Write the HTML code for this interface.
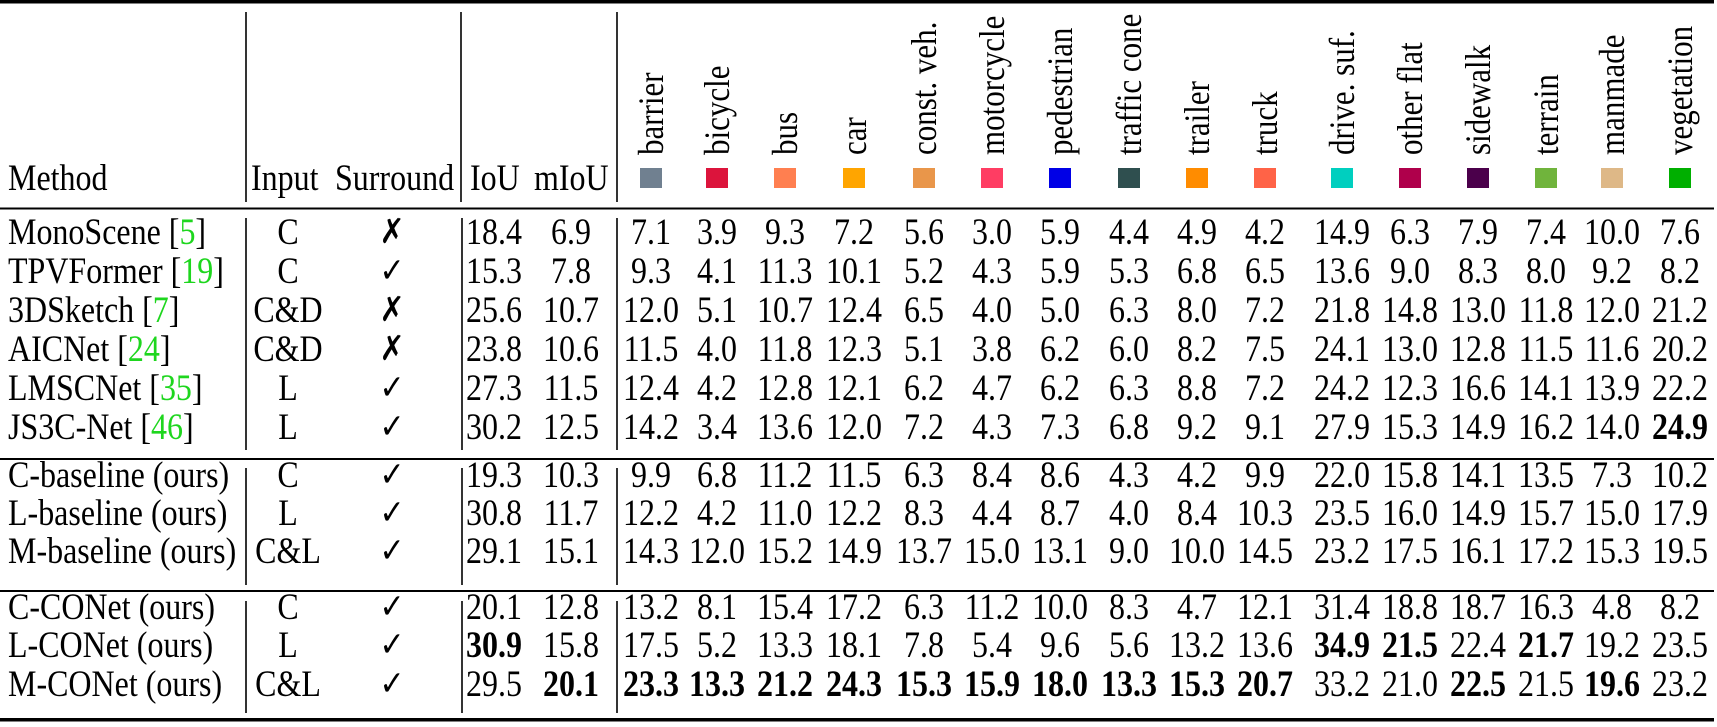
<!DOCTYPE html>
<html><head><meta charset="utf-8"><style>
html,body{margin:0;padding:0;background:#fff;}
svg{display:block}
text{font-family:"Liberation Serif",serif;font-size:32px;fill:#000}
.b{font-weight:bold}
.c{text-anchor:middle}
.g{fill:#1ed61e}
.sym{font-family:"DejaVu Sans",sans-serif;font-size:30px;font-weight:bold}
.rl{font-size:31px}
</style></head><body>
<svg width="1717" height="727" viewBox="0 0 1717 727" xmlns="http://www.w3.org/2000/svg">
<rect x="0" y="0" width="1714" height="3.5" fill="#000"/>
<rect x="0" y="207.5" width="1714" height="2" fill="#000"/>
<rect x="0" y="458" width="1714" height="2" fill="#000"/>
<rect x="0" y="590" width="1714" height="2" fill="#000"/>
<rect x="0" y="718" width="1714" height="3.5" fill="#000"/>
<g stroke="#000" stroke-width="1.6">
<line x1="246" y1="12" x2="246" y2="202"/><line x1="461" y1="12" x2="461" y2="202"/><line x1="617" y1="12" x2="617" y2="202"/>
<line x1="246" y1="218" x2="246" y2="450"/><line x1="462" y1="218" x2="462" y2="450"/><line x1="617" y1="218" x2="617" y2="450"/>
<line x1="246" y1="468" x2="246" y2="585"/><line x1="462" y1="468" x2="462" y2="585"/><line x1="617" y1="468" x2="617" y2="585"/>
<line x1="246" y1="601" x2="246" y2="713"/><line x1="462" y1="601" x2="462" y2="713"/><line x1="617" y1="601" x2="617" y2="713"/>
</g>
<script>
const SY=1.15;
const cx=[651,717,785,854,924,992,1060,1129,1197,1265,1342,1410,1478,1546,1612,1680];
const names=["barrier","bicycle","bus","car","const. veh.","motorcycle","pedestrian","traffic cone","trailer","truck","drive. suf.","other flat","sidewalk","terrain","manmade","vegetation"];
const cols=["#708090","#dc143c","#ff7f50","#ffa500","#e9964a","#ff3d63","#0000e6","#2f4f4f","#ff8c00","#ff6347","#00cfbf","#af004b","#4b004b","#70b43c","#deb887","#00af00"];
const NS="http://www.w3.org/2000/svg";
const svg=document.querySelector("svg");
function t(x,y,s,cls,extra){const e=document.createElementNS(NS,"text");e.setAttribute("x",0);e.setAttribute("y",0);if(cls)e.setAttribute("class",cls);e.setAttribute("transform",extra||("translate("+x+","+y+") scale(1,"+SY+")"));e.textContent=s;svg.appendChild(e);return e;}
t(8,190,"Method");t(251,190,"Input");t(335,190,"Surround");t(470,190,"IoU");t(534,190,"mIoU");
for(let i=0;i<16;i++){
 const r=document.createElementNS(NS,"rect");r.setAttribute("x",cx[i]-11);r.setAttribute("y",168);r.setAttribute("width",22);r.setAttribute("height",20);r.setAttribute("fill",cols[i]);svg.appendChild(r);
 t(0,0,names[i],"rl", "translate("+(cx[i]+12)+",155) rotate(-90) scale(1,"+SY+")");
}
const rows=[
["MonoScene","5","C","x","18.4","6.9","7.1 3.9 9.3 7.2 5.6 3.0 5.9 4.4 4.9 4.2 14.9 6.3 7.9 7.4 10.0 7.6",244],
["TPVFormer","19","C","v","15.3","7.8","9.3 4.1 11.3 10.1 5.2 4.3 5.9 5.3 6.8 6.5 13.6 9.0 8.3 8.0 9.2 8.2",283],
["3DSketch","7","C&D","x","25.6","10.7","12.0 5.1 10.7 12.4 6.5 4.0 5.0 6.3 8.0 7.2 21.8 14.8 13.0 11.8 12.0 21.2",322],
["AICNet","24","C&D","x","23.8","10.6","11.5 4.0 11.8 12.3 5.1 3.8 6.2 6.0 8.2 7.5 24.1 13.0 12.8 11.5 11.6 20.2",361],
["LMSCNet","35","L","v","27.3","11.5","12.4 4.2 12.8 12.1 6.2 4.7 6.2 6.3 8.8 7.2 24.2 12.3 16.6 14.1 13.9 22.2",400],
["JS3C-Net","46","L","v","30.2","12.5","14.2 3.4 13.6 12.0 7.2 4.3 7.3 6.8 9.2 9.1 27.9 15.3 14.9 16.2 14.0 *24.9",439],
["C-baseline (ours)","","C","v","19.3","10.3","9.9 6.8 11.2 11.5 6.3 8.4 8.6 4.3 4.2 9.9 22.0 15.8 14.1 13.5 7.3 10.2",487],
["L-baseline (ours)","","L","v","30.8","11.7","12.2 4.2 11.0 12.2 8.3 4.4 8.7 4.0 8.4 10.3 23.5 16.0 14.9 15.7 15.0 17.9",525],
["M-baseline (ours)","","C&L","v","29.1","15.1","14.3 12.0 15.2 14.9 13.7 15.0 13.1 9.0 10.0 14.5 23.2 17.5 16.1 17.2 15.3 19.5",563],
["C-CONet (ours)","","C","v","20.1","12.8","13.2 8.1 15.4 17.2 6.3 11.2 10.0 8.3 4.7 12.1 31.4 18.8 18.7 16.3 4.8 8.2",619],
["L-CONet (ours)","","L","v","*30.9","15.8","17.5 5.2 13.3 18.1 7.8 5.4 9.6 5.6 13.2 13.6 *34.9 *21.5 22.4 *21.7 19.2 23.5",657],
["M-CONet (ours)","","C&L","v","29.5","*20.1","*23.3 *13.3 *21.2 *24.3 *15.3 *15.9 *18.0 *13.3 *15.3 *20.7 33.2 21.0 *22.5 21.5 *19.6 23.2",696]];
function val(x,y,s){const b=s[0]=="*";t(x,y,b?s.slice(1):s,b?"c b":"c");}
for(const r of rows){
 const y=r[7];
 const e=t(8,y,"");
 if(r[1]){e.textContent=r[0]+" [";const ts=document.createElementNS(NS,"tspan");ts.setAttribute("class","g");ts.textContent=r[1];e.appendChild(ts);e.appendChild(document.createTextNode("]"));}
 else e.textContent=r[0];
 t(288,y,r[2],"c");
 t(392,y-1,r[3]=="x"?"\u2717":"\u2713","c sym");
 val(494,y,r[4]);val(571,y,r[5]);
 r[6].split(" ").forEach((s,i)=>val(cx[i],y,s));
}
</script>
</svg>
</body></html>
